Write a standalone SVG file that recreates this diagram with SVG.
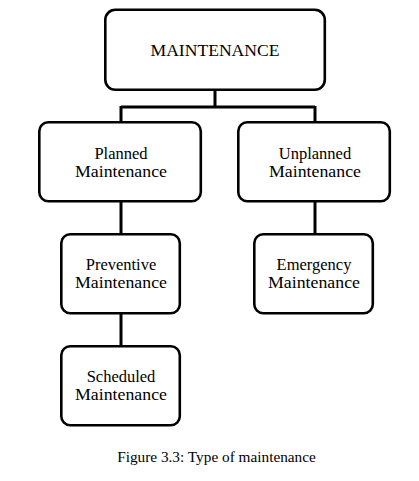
<svg xmlns="http://www.w3.org/2000/svg" width="419" height="481" viewBox="0 0 419 481">
<style>
.box{fill:#fff;stroke:#000;stroke-width:2.6}
.lbl{font-size:16.5px;fill:#000;text-anchor:middle}
.cap{font-size:15.3px;fill:#000;text-anchor:middle}
.con{fill:none;stroke:#000;stroke-width:3}
</style>
<rect width="419" height="481" fill="#fff"/>
<g id="connectors">
<path class="con" d="M215 90 V107 M121 107 H315 M121 106 V122 M315 106 V122"/>
<path class="con" d="M121 202 V234"/>
<path class="con" d="M315 202 V234"/>
<path class="con" d="M121 314 V346"/>
</g>
<g font-family="Liberation Serif, Times New Roman, serif">
<g id="maintenance">
<rect class="box" x="105.3" y="9.8" width="219.5" height="80" rx="10"/>
<text class="lbl" x="215" y="56" font-size="17.5" textLength="129" lengthAdjust="spacingAndGlyphs">MAINTENANCE</text>
</g>
<g id="planned">
<rect class="box" x="39.3" y="122.3" width="161.5" height="79" rx="9"/>
<text class="lbl" x="121" y="158.5">Planned</text>
<text class="lbl" x="121" y="177" textLength="92" lengthAdjust="spacingAndGlyphs">Maintenance</text>
</g>
<g id="unplanned">
<rect class="box" x="238.3" y="122.3" width="151.5" height="79" rx="9"/>
<text class="lbl" x="315" y="158.5">Unplanned</text>
<text class="lbl" x="315" y="177" textLength="92" lengthAdjust="spacingAndGlyphs">Maintenance</text>
</g>
<g id="preventive">
<rect class="box" x="61.3" y="234.3" width="118.5" height="79" rx="9"/>
<text class="lbl" x="121" y="269.5">Preventive</text>
<text class="lbl" x="121" y="288" textLength="92" lengthAdjust="spacingAndGlyphs">Maintenance</text>
</g>
<g id="emergency">
<rect class="box" x="254.3" y="234.3" width="118.5" height="79" rx="9"/>
<text class="lbl" x="314" y="269.5">Emergency</text>
<text class="lbl" x="314" y="288" textLength="92" lengthAdjust="spacingAndGlyphs">Maintenance</text>
</g>
<g id="scheduled">
<rect class="box" x="61.3" y="346.3" width="118.5" height="79" rx="9"/>
<text class="lbl" x="121" y="381.5">Scheduled</text>
<text class="lbl" x="121" y="400" textLength="92" lengthAdjust="spacingAndGlyphs">Maintenance</text>
</g>
<text class="cap" x="216.5" y="462">Figure 3.3: Type of maintenance</text>
</g>
</svg>
